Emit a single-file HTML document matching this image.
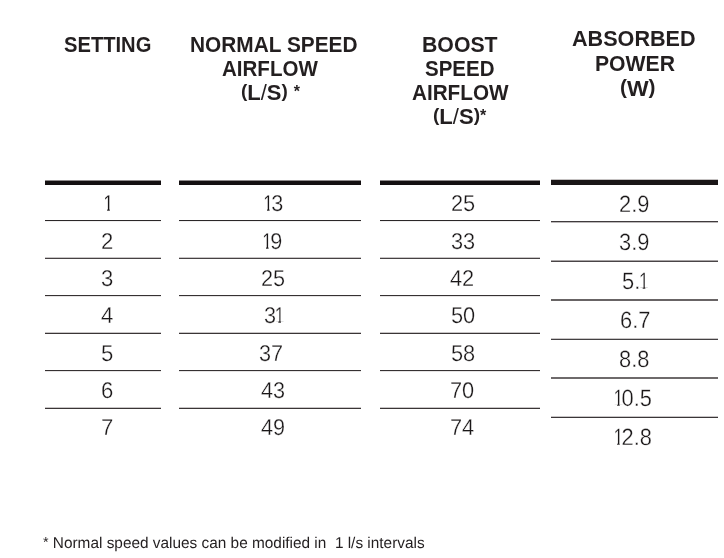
<!DOCTYPE html>
<html><head><meta charset="utf-8"><title>Airflow settings</title><style>
html,body{margin:0;padding:0;background:#fff;}
body{width:724px;height:558px;position:relative;overflow:hidden;font-family:"Liberation Sans", Arial, sans-serif;color:#231f20;}
.h{position:absolute;white-space:pre;font-weight:700;font-size:22px;line-height:22px;transform-origin:0 0;}
.d{position:absolute;white-space:pre;font-weight:400;color:#1a1718;-webkit-text-stroke:0.3px #fff;transform-origin:0 0;text-rendering:geometricPrecision;}
.l{position:absolute;}
.o{display:inline-block;transform:scaleX(.8);margin:0 -3px;clip-path:polygon(0 0,100% 0,100% .737em,.36em .737em,.36em 100%,.21em 100%,.21em .737em,0 .737em);}
.p{font-size:19px;position:relative;top:-3px}.p2{font-size:20px;position:relative;top:-2px}.a{font-size:16px;position:relative;top:-3px}.s{font-weight:400}
.fn{position:absolute;white-space:pre;font-size:15.6px;line-height:15.6px;transform-origin:0 0;transform:scaleX(0.986);text-rendering:geometricPrecision;}.fa{font-size:14.5px;position:relative;top:-1px}
</style></head><body>
<div class="h" style="left:64.38px;top:34.0px;transform:scaleX(0.9161)">SETTING</div>
<div class="h" style="left:189.65px;top:34.0px;transform:scaleX(0.9474)">NORMAL SPEED</div>
<div class="h" style="left:221.67px;top:58.0px;transform:scaleX(0.9333)">AIRFLOW</div>
<div class="h" style="left:241.0px;top:82.3px;transform:scaleX(0.9966)"><span class="p">(</span>L<span class="s">/</span>S<span class="p">)</span> <span class="a">*</span></div>
<div class="h" style="left:422.33px;top:34.0px;transform:scaleX(0.9662)">BOOST</div>
<div class="h" style="left:425.07px;top:58.2px;transform:scaleX(0.9315)">SPEED</div>
<div class="h" style="left:411.56px;top:82.0px;transform:scaleX(0.9402)">AIRFLOW</div>
<div class="h" style="left:433.3px;top:106.2px;transform:scaleX(1.0038)"><span class="p">(</span>L<span class="s">/</span>S<span class="p">)</span><span class="a">*</span></div>
<div class="h" style="left:572.02px;top:28.3px;transform:scaleX(0.9815)">ABSORBED</div>
<div class="h" style="left:594.64px;top:53.0px;transform:scaleX(0.9617)">POWER</div>
<div class="h" style="left:619.86px;top:78.0px;transform:scaleX(1.0406)"><span class="p2">(</span>W<span class="p2">)</span></div>
<div class="l" style="left:45px;top:181px;width:116px;height:4px;background:#141011;box-shadow:0 -1px 0 #8f8b8c"></div>
<div class="l" style="left:45px;top:220px;width:116px;height:1px;background:#2b2728;box-shadow:0 1px 0 #f0efef"></div>
<div class="l" style="left:45px;top:258px;width:116px;height:1px;background:#464143;box-shadow:0 -1px 0 #c8c5c6"></div>
<div class="l" style="left:45px;top:295px;width:116px;height:1px;background:#363132;box-shadow:0 1px 0 #e6e4e4"></div>
<div class="l" style="left:45px;top:333px;width:116px;height:1px;background:#3a3536;box-shadow:0 -1px 0 #c8c5c6"></div>
<div class="l" style="left:45px;top:370px;width:116px;height:1px;background:#363132;box-shadow:0 1px 0 #e6e4e4"></div>
<div class="l" style="left:45px;top:408px;width:116px;height:1px;background:#3a3536;box-shadow:0 -1px 0 #c8c5c6"></div>
<div class="l" style="left:179px;top:181px;width:182px;height:4px;background:#141011;box-shadow:0 -1px 0 #8f8b8c"></div>
<div class="l" style="left:179px;top:220px;width:182px;height:1px;background:#2b2728;box-shadow:0 1px 0 #f0efef"></div>
<div class="l" style="left:179px;top:258px;width:182px;height:1px;background:#464143;box-shadow:0 -1px 0 #c8c5c6"></div>
<div class="l" style="left:179px;top:295px;width:182px;height:1px;background:#363132;box-shadow:0 1px 0 #e6e4e4"></div>
<div class="l" style="left:179px;top:333px;width:182px;height:1px;background:#3a3536;box-shadow:0 -1px 0 #c8c5c6"></div>
<div class="l" style="left:179px;top:370px;width:182px;height:1px;background:#363132;box-shadow:0 1px 0 #e6e4e4"></div>
<div class="l" style="left:179px;top:408px;width:182px;height:1px;background:#3a3536;box-shadow:0 -1px 0 #c8c5c6"></div>
<div class="l" style="left:380px;top:181px;width:160px;height:4px;background:#141011;box-shadow:0 -1px 0 #8f8b8c"></div>
<div class="l" style="left:380px;top:220px;width:160px;height:1px;background:#2b2728;box-shadow:0 1px 0 #f0efef"></div>
<div class="l" style="left:380px;top:258px;width:160px;height:1px;background:#464143;box-shadow:0 -1px 0 #c8c5c6"></div>
<div class="l" style="left:380px;top:295px;width:160px;height:1px;background:#363132;box-shadow:0 1px 0 #e6e4e4"></div>
<div class="l" style="left:380px;top:333px;width:160px;height:1px;background:#3a3536;box-shadow:0 -1px 0 #c8c5c6"></div>
<div class="l" style="left:380px;top:370px;width:160px;height:1px;background:#363132;box-shadow:0 1px 0 #e6e4e4"></div>
<div class="l" style="left:380px;top:408px;width:160px;height:1px;background:#3a3536;box-shadow:0 -1px 0 #c8c5c6"></div>
<div class="l" style="left:551px;top:180px;width:167px;height:5px;background:#1a1617;box-shadow:0 -1px 0 #c4c1c1"></div>
<div class="l" style="left:551px;top:221px;width:167px;height:1px;background:#403b3d;box-shadow:0 1px 0 #bcb9ba"></div>
<div class="l" style="left:551px;top:261px;width:167px;height:1px;background:#4a4547;box-shadow:0 -1px 0 #a8a4a5"></div>
<div class="l" style="left:551px;top:299px;width:167px;height:2px;background:#686465"></div>
<div class="l" style="left:551px;top:339px;width:167px;height:1px;background:#434042;box-shadow:0 -1px 0 #c8c5c6"></div>
<div class="l" style="left:551px;top:377px;width:167px;height:2px;background:#6e6a6b"></div>
<div class="l" style="left:551px;top:417px;width:167px;height:1px;background:#3a3638;box-shadow:0 -1px 0 #c8c5c6"></div>
<div class="d" style="left:104.90px;top:192.2px;font-size:22.8px;line-height:22.8px"><span class="o">1</span></div>
<div class="d" style="left:100.69px;top:229.58px;font-size:22.8px;line-height:22.8px;transform:scaleX(0.970)">2</div>
<div class="d" style="left:101.44px;top:266.96px;font-size:22.8px;line-height:22.8px;transform:scaleX(0.970)">3</div>
<div class="d" style="left:101.40px;top:304.34px;font-size:22.8px;line-height:22.8px;transform:scaleX(0.970)">4</div>
<div class="d" style="left:101.19px;top:341.72px;font-size:22.8px;line-height:22.8px;transform:scaleX(0.970)">5</div>
<div class="d" style="left:101.19px;top:379.1px;font-size:22.8px;line-height:22.8px;transform:scaleX(0.970)">6</div>
<div class="d" style="left:101.44px;top:416.48px;font-size:22.8px;line-height:22.8px;transform:scaleX(0.970)">7</div>
<div class="d" style="left:264.70px;top:192.2px;font-size:22.8px;line-height:22.8px;transform:scaleX(0.950)"><span class="o">1</span>3</div>
<div class="d" style="left:264.45px;top:229.58px;font-size:22.8px;line-height:22.8px;transform:scaleX(0.950)"><span class="o">1</span>9</div>
<div class="d" style="left:261.23px;top:266.96px;font-size:22.8px;line-height:22.8px;transform:scaleX(0.950)">25</div>
<div class="d" style="left:263.58px;top:304.34px;font-size:22.8px;line-height:22.8px;transform:scaleX(0.950)">3<span class="o">1</span></div>
<div class="d" style="left:259.07px;top:341.72px;font-size:22.8px;line-height:22.8px;transform:scaleX(0.950)">37</div>
<div class="d" style="left:261.23px;top:379.1px;font-size:22.8px;line-height:22.8px;transform:scaleX(0.950)">43</div>
<div class="d" style="left:261.38px;top:416.48px;font-size:22.8px;line-height:22.8px;transform:scaleX(0.950)">49</div>
<div class="d" style="left:450.56px;top:192.2px;font-size:22.8px;line-height:22.8px;transform:scaleX(0.955)">25</div>
<div class="d" style="left:450.61px;top:229.58px;font-size:22.8px;line-height:22.8px;transform:scaleX(0.955)">33</div>
<div class="d" style="left:450.36px;top:266.96px;font-size:22.8px;line-height:22.8px;transform:scaleX(0.955)">42</div>
<div class="d" style="left:450.96px;top:304.34px;font-size:22.8px;line-height:22.8px;transform:scaleX(0.955)">50</div>
<div class="d" style="left:450.96px;top:341.72px;font-size:22.8px;line-height:22.8px;transform:scaleX(0.955)">58</div>
<div class="d" style="left:450.26px;top:379.1px;font-size:22.8px;line-height:22.8px;transform:scaleX(0.955)">70</div>
<div class="d" style="left:450.13px;top:416.48px;font-size:22.8px;line-height:22.8px;transform:scaleX(0.955)">74</div>
<div class="d" style="left:619.12px;top:192.5px;font-size:23.5px;line-height:23.5px;transform:scaleX(0.930)">2.9</div>
<div class="d" style="left:619.02px;top:231.38px;font-size:23.5px;line-height:23.5px;transform:scaleX(0.930)">3.9</div>
<div class="d" style="left:621.81px;top:270.26px;font-size:23.5px;line-height:23.5px;transform:scaleX(0.930)">5.<span class="o">1</span></div>
<div class="d" style="left:619.62px;top:309.14px;font-size:23.5px;line-height:23.5px;transform:scaleX(0.930)">6.7</div>
<div class="d" style="left:619.22px;top:348.02px;font-size:23.5px;line-height:23.5px;transform:scaleX(0.930)">8.8</div>
<div class="d" style="left:615.37px;top:386.9px;font-size:23.5px;line-height:23.5px;transform:scaleX(0.930)"><span class="o">1</span>0.5</div>
<div class="d" style="left:615.16px;top:425.78px;font-size:23.5px;line-height:23.5px;transform:scaleX(0.930)"><span class="o">1</span>2.8</div>
<div class="fn" style="left:42.6px;top:536.2px"><span class="fa">*</span> Normal speed values can be modified in  1 l/s intervals</div>
</body></html>
